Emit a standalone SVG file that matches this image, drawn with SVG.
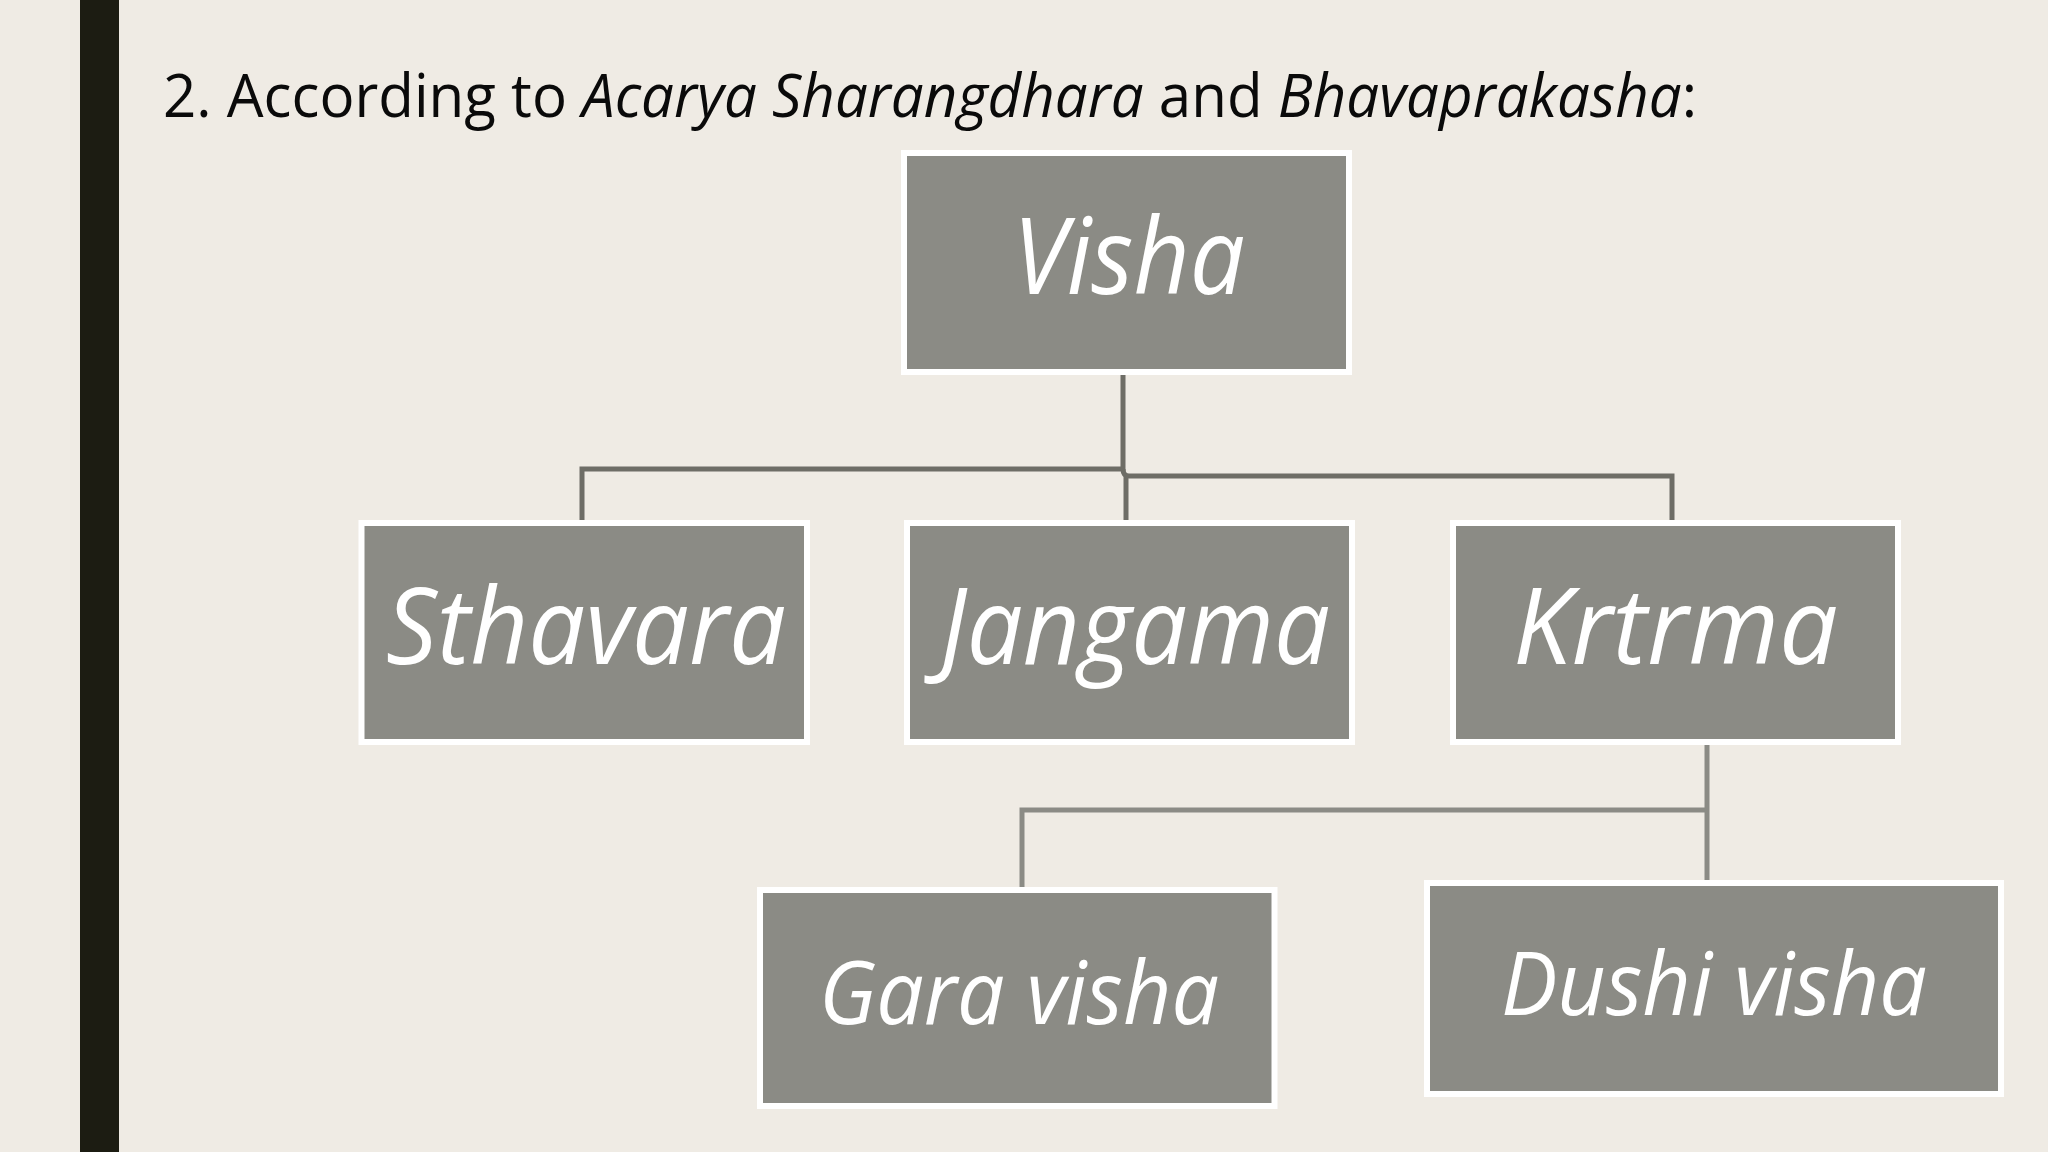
<svg xmlns="http://www.w3.org/2000/svg" width="2048" height="1152" viewBox="0 0 2048 1152">
  <defs>
    <style>
      .box { fill: #8b8b85; stroke: #ffffff; stroke-width: 6; }
      .lbl { font-family: "Open Sans", "Noto Sans", "DejaVu Sans", sans-serif; font-style: italic; fill: #ffffff; }
      .big { font-size: 106px; }
      .mid { font-size: 88px; }
      .title { font-family: "Open Sans", "Noto Sans", "DejaVu Sans", sans-serif; font-size: 60px; fill: #0a0a0a; }
      .it { font-style: italic; }
      .conn-top { fill: none; stroke: #6e6d66; stroke-width: 5; }
      .conn-bot { fill: none; stroke: #8b8b85; stroke-width: 5; }
    </style>
  </defs>

  <rect x="0" y="0" width="2048" height="1152" fill="#efebe4"/>
  <rect x="80" y="0" width="39" height="1152" fill="#1c1c12"/>

  <g id="title">
    <text class="title" x="163" y="117" textLength="1534" lengthAdjust="spacingAndGlyphs">2. According to <tspan class="it">Acarya Sharangdhara</tspan> and <tspan class="it">Bhavaprakasha</tspan>:</text>
  </g>

  <g id="connectors">
    <path class="conn-top" d="M1123,372 V469 H582 V523"/>
    <path class="conn-top" d="M1123,469 Q1123,476 1129,476 H1672 V523"/>
    <path class="conn-top" d="M1126,476 V523"/>
    <path class="conn-bot" d="M1707,742 V883"/>
    <path class="conn-bot" d="M1707,810 H1022 V890"/>
  </g>

  <g id="node-visha">
    <rect class="box" x="904" y="153" width="445" height="219"/>
    <text class="lbl big" x="1013" y="294" textLength="232" lengthAdjust="spacingAndGlyphs">Visha</text>
  </g>

  <g id="node-sthavara">
    <rect class="box" x="361.5" y="523" width="445.5" height="219"/>
    <text class="lbl big" x="386" y="664" textLength="400" lengthAdjust="spacingAndGlyphs">Sthavara</text>
  </g>

  <g id="node-jangama">
    <rect class="box" x="907" y="523" width="445" height="219"/>
    <text class="lbl big" x="940" y="664" textLength="390" lengthAdjust="spacingAndGlyphs">Jangama</text>
  </g>

  <g id="node-krtrma">
    <rect class="box" x="1453" y="523" width="445" height="219"/>
    <text class="lbl big" x="1513" y="664" textLength="325" lengthAdjust="spacingAndGlyphs">Krtrma</text>
  </g>

  <g id="node-gara-visha">
    <rect class="box" x="760" y="890" width="514.5" height="216"/>
    <text class="lbl mid" x="819" y="1024" textLength="400" lengthAdjust="spacingAndGlyphs">Gara visha</text>
  </g>

  <g id="node-dushi-visha">
    <rect class="box" x="1427" y="883" width="574" height="211"/>
    <text class="lbl mid" x="1501" y="1015" textLength="426" lengthAdjust="spacingAndGlyphs">Dushi visha</text>
  </g>
</svg>
